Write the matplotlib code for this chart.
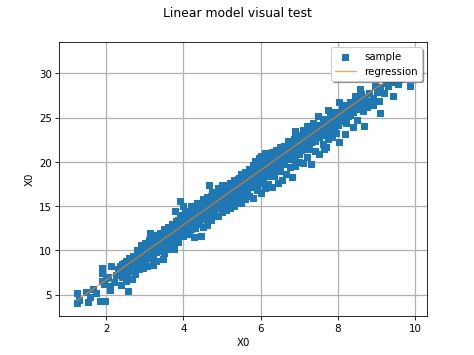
import matplotlib
matplotlib.use('Agg')
import matplotlib.pyplot as plt

# Sample, row by row along the band.
sample_x = [1.24, 1.24, 1.3, 1.48, 1.54, 1.58, 1.65, 1.73, 1.84, 1.97,
            1.9, 1.9, 1.88, 1.95, 2.0, 2.05, 2.1, 2.13, 2.1, 2.2,
            2.25, 2.3, 2.38, 2.35, 2.4, 2.45, 2.5, 2.56, 2.55, 2.6,
            2.68, 2.65, 2.7, 2.75, 2.8, 2.8, 2.85, 2.9, 2.9, 2.95,
            3.0, 3.0, 3.05, 3.1, 3.14, 3.15, 3.2, 3.2, 3.25, 3.3,
            3.3, 3.35, 3.4, 3.48, 3.45, 3.5, 3.5, 3.55, 3.6, 3.6,
            3.65, 3.7, 3.7, 3.78, 3.75, 3.8, 3.85, 3.85, 3.91, 3.9,
            3.98, 3.95, 4.0, 4.0, 4.05, 4.1, 4.1, 4.15, 4.2, 4.2,
            4.26, 4.3, 4.3, 4.35, 4.4, 4.45, 4.45, 4.5, 4.5, 4.55,
            4.55, 4.6, 4.6, 4.66, 4.65, 4.7, 4.7, 4.75, 4.8, 4.8,
            4.85, 4.9, 4.9, 4.95, 5.0, 5.0, 5.0, 5.05, 5.1, 5.1,
            5.15, 5.2, 5.2, 5.25, 5.3, 5.3, 5.35, 5.4, 5.4, 5.45,
            5.5, 5.5, 5.55, 5.55, 5.6, 5.6, 5.65, 5.7, 5.7, 5.75,
            5.8, 5.8, 5.8, 5.85, 5.9, 5.9, 5.95, 5.95, 6.0, 6.0,
            6.0, 6.05, 6.1, 6.1, 6.1, 6.15, 6.2, 6.2, 6.25, 6.3,
            6.3, 6.35, 6.4, 6.4, 6.45, 6.5, 6.5, 6.55, 6.6, 6.6,
            6.65, 6.7, 6.7, 6.75, 6.8, 6.8, 6.89, 6.85, 6.9, 6.9,
            6.95, 7.0, 7.0, 7.05, 7.1, 7.1, 7.15, 7.2, 7.2, 7.25,
            7.3, 7.3, 7.35, 7.4, 7.4, 7.45, 7.49, 7.5, 7.55, 7.6,
            7.6, 7.65, 7.69, 7.73, 7.7, 7.75, 7.8, 7.8, 7.85, 7.9,
            7.95, 8.03, 8.03, 8.05, 8.1, 8.18, 8.2, 8.2, 8.25, 8.3,
            8.38, 8.4, 8.45, 8.5, 8.57, 8.55, 8.6, 8.68, 8.65, 8.7,
            8.75, 8.8, 8.85, 8.97, 8.9, 9.0, 9.09, 9.1, 9.2, 9.3,
            9.43, 9.55, 9.86, 9.4, 9.6, 8.9, 9.05, 9.25, 9.7, 6.6]
sample_y = [5.2, 4.06, 4.4, 5.37, 4.24, 4.7, 5.6, 5.2, 4.3, 4.3,
            8.0, 7.5, 6.6, 6.2, 6.9, 7.0, 5.57, 8.2, 6.0, 6.4,
            7.2, 7.9, 6.13, 8.3, 7.0, 8.6, 6.5, 5.45, 7.5, 8.9,
            6.78, 8.0, 9.3, 7.3, 10.0, 8.4, 7.9, 9.2, 10.5, 8.0,
            10.8, 9.0, 8.2, 9.9, 12.0, 11.0, 8.4, 9.6, 10.6, 11.5,
            8.8, 9.9, 11.0, 9.0, 10.2, 12.0, 9.7, 11.2, 12.4, 10.2,
            10.9, 12.8, 11.4, 14.4, 10.2, 12.0, 13.4, 11.0, 15.55, 12.6,
            15.0, 14.0, 11.6, 13.0, 14.5, 12.2, 13.6, 11.9, 15.0, 12.9,
            11.5, 14.1, 12.5, 15.4, 13.3, 11.6, 14.6, 12.6, 15.8, 13.8,
            15.0, 12.9, 16.0, 17.4, 14.2, 13.4, 15.6, 16.6, 14.0, 15.0,
            16.2, 13.9, 17.0, 15.2, 14.3, 16.4, 17.4, 15.4, 14.6, 17.0,
            16.0, 14.8, 17.6, 15.6, 16.7, 15.0, 17.9, 15.5, 16.5, 18.2,
            15.3, 17.3, 16.3, 18.6, 15.8, 17.8, 16.8, 19.1, 16.2, 18.0,
            15.9, 19.6, 17.4, 20.1, 16.8, 18.6, 20.4, 17.6, 16.5, 19.2,
            20.7, 18.1, 17.0, 20.1, 21.0, 18.9, 17.5, 20.6, 19.6, 17.2,
            21.0, 18.4, 20.0, 21.2, 17.6, 19.0, 21.3, 18.0, 20.4, 21.8,
            18.6, 20.9, 22.2, 19.4, 18.3, 21.3, 23.5, 22.6, 19.5, 20.8,
            22.1, 20.0, 23.0, 21.3, 19.9, 23.4, 22.2, 20.6, 24.0, 21.4,
            19.7, 23.1, 24.4, 21.2, 22.6, 24.0, 25.2, 20.9, 23.3, 24.8,
            22.0, 21.4, 21.7, 25.8, 23.7, 22.6, 25.2, 24.1, 22.8, 25.6,
            23.2, 22.2, 26.7, 24.6, 25.8, 23.1, 26.4, 24.4, 25.2, 26.8,
            23.9, 25.6, 27.4, 24.7, 28.2, 26.4, 27.6, 24.0, 25.7, 27.0,
            26.2, 27.8, 26.9, 28.5, 27.2, 27.9, 25.5, 28.4, 27.8, 28.6,
            27.4, 28.8, 28.6, 29.0, 29.4, 26.4, 26.9, 28.9, 30.0, 19.8]

# Middle of the band, where the squares merge into one solid shape
core_x = [2.4, 2.4, 2.4, 2.6, 2.6, 2.6, 2.8, 2.8, 2.8, 3.0, 3.0, 3.0,
          3.2, 3.2, 3.2, 3.2, 3.4, 3.4, 3.4, 3.4, 3.6, 3.6, 3.6, 3.6,
          3.8, 3.8, 3.8, 3.8, 4.0, 4.0, 4.0, 4.0, 4.2, 4.2, 4.2, 4.2,
          4.4, 4.4, 4.4, 4.4, 4.6, 4.6, 4.6, 4.6, 4.8, 4.8, 4.8, 4.8,
          5.0, 5.0, 5.0, 5.0, 5.2, 5.2, 5.2, 5.2, 5.4, 5.4, 5.4, 5.4,
          5.6, 5.6, 5.6, 5.6, 5.8, 5.8, 5.8, 5.8, 6.0, 6.0, 6.0, 6.0,
          6.2, 6.2, 6.2, 6.2, 6.4, 6.4, 6.4, 6.4, 6.6, 6.6, 6.6, 6.6,
          6.8, 6.8, 6.8, 6.8, 7.0, 7.0, 7.0, 7.0, 7.2, 7.2, 7.2, 7.2,
          7.4, 7.4, 7.4, 7.6, 7.6, 7.6, 7.8, 7.8, 7.8, 8.0, 8.0, 8.0,
          8.2, 8.2, 8.4, 8.4, 8.6, 8.6]
core_y = [7.2, 7.9, 8.5, 7.7, 8.5, 9.2, 8.4, 9.2, 9.9, 9.1, 9.8, 10.5,
          9.4, 10.1, 10.7, 11.3, 10.0, 10.7, 11.3, 12.0, 10.6, 11.3, 11.9, 12.6,
          11.3, 12.0, 12.6, 13.3, 11.9, 12.6, 13.2, 13.9, 12.4, 13.1, 13.8, 14.5,
          13.0, 13.7, 14.4, 15.1, 13.6, 14.3, 15.0, 15.7, 14.2, 14.9, 15.6, 16.3,
          14.9, 15.6, 16.3, 17.0, 15.4, 16.2, 16.9, 17.5, 16.0, 16.8, 17.5, 18.1,
          16.6, 17.4, 18.1, 18.8, 17.2, 18.0, 18.7, 19.4, 17.8, 18.7, 19.4, 20.1,
          18.4, 19.2, 19.9, 20.7, 19.0, 19.8, 20.6, 21.3, 19.7, 20.4, 21.2, 21.8,
          20.3, 21.0, 21.8, 22.4, 20.9, 21.7, 22.4, 23.0, 21.5, 22.3, 23.0, 23.6,
          22.4, 23.1, 23.8, 23.0, 23.7, 24.4, 23.6, 24.3, 25.0, 24.2, 24.9, 25.6,
          25.0, 25.8, 25.7, 26.4, 26.3, 27.0]

core2_x = [2.5, 2.5, 2.5, 2.7, 2.7, 2.7,
           2.9, 2.9, 2.9, 2.9, 3.1, 3.1, 3.1, 3.1, 3.3, 3.3, 3.3, 3.3,
           3.5, 3.5, 3.5, 3.5, 3.7, 3.7, 3.7, 3.7, 3.9, 3.9, 3.9, 3.9,
           4.1, 4.1, 4.1, 4.1, 4.3, 4.3, 4.3, 4.3, 4.5, 4.5, 4.5, 4.5,
           4.7, 4.7, 4.7, 4.7, 4.9, 4.9, 4.9, 4.9, 5.1, 5.1, 5.1, 5.1,
           5.3, 5.3, 5.3, 5.3, 5.5, 5.5, 5.5, 5.5, 5.7, 5.7, 5.7, 5.7,
           5.9, 5.9, 5.9, 5.9, 6.1, 6.1, 6.1, 6.1, 6.3, 6.3, 6.3, 6.3,
           6.5, 6.5, 6.5, 6.5, 6.7, 6.7, 6.7, 6.7, 6.9, 6.9, 6.9, 6.9,
           7.1, 7.1, 7.1, 7.1, 7.3, 7.3, 7.3, 7.5, 7.5, 7.5, 7.7, 7.7, 7.7,
           7.9, 7.9, 7.9, 8.1, 8.1, 8.1, 8.3, 8.3, 8.3, 8.5, 8.5, 8.7, 8.7]
core2_y = [7.4, 8.1, 8.8, 8.0, 8.7, 9.4,
           8.6, 9.3, 10.0, 10.6, 9.2, 9.9, 10.6, 11.2, 9.8, 10.5, 11.2, 11.8,
           10.4, 11.1, 11.8, 12.4, 11.0, 11.7, 12.4, 13.0, 11.7, 12.4, 13.1, 13.7,
           12.3, 13.0, 13.7, 14.3, 12.9, 13.6, 14.3, 14.9, 13.5, 14.2, 14.9, 15.5,
           14.1, 14.8, 15.5, 16.1, 14.8, 15.5, 16.2, 16.8, 15.4, 16.1, 16.8, 17.4,
           16.0, 16.7, 17.4, 18.0, 16.6, 17.3, 18.0, 18.6, 17.2, 17.9, 18.6, 19.2,
           17.9, 18.6, 19.3, 19.9, 18.5, 19.2, 19.9, 20.5, 19.1, 19.8, 20.5, 21.1,
           19.7, 20.4, 21.1, 21.7, 20.3, 21.0, 21.7, 22.3, 20.9, 21.6, 22.3, 22.9,
           21.6, 22.3, 23.0, 23.6, 22.2, 22.9, 23.6, 22.8, 23.5, 24.2, 23.4, 24.1, 24.8,
           24.0, 24.7, 25.4, 24.6, 25.3, 26.0, 25.3, 26.0, 26.7, 26.0, 26.7, 26.6, 27.3]

# Fitted line, ends only
line_x = [1.24, 9.86]
line_y = [4.35, 31.0]

fig = plt.figure(figsize=(6.4, 4.8), dpi=74.1)
ax = fig.add_subplot(111)
ax.scatter(sample_x + core_x + core2_x, sample_y + core_y + core2_y, marker='s',
           s=38, color='C0', label='sample')
ax.plot(line_x, line_y, color='C1', linewidth=1.2, alpha=0.75, label='regression')

ax.set_xlim(0.785, 10.3)
ax.set_ylim(2.62, 33.52)
ax.set_xticks([2, 4, 6, 8, 10])
ax.set_yticks([5, 10, 15, 20, 25, 30])
ax.grid(True, linewidth=1.2)
ax.set_axisbelow(True)
ax.set_xlabel('X0')
ax.set_ylabel('X0')
ax.legend(loc='upper right', shadow=True)
fig.suptitle('Linear model visual test')
fig.savefig('out.png', dpi=74.1)
